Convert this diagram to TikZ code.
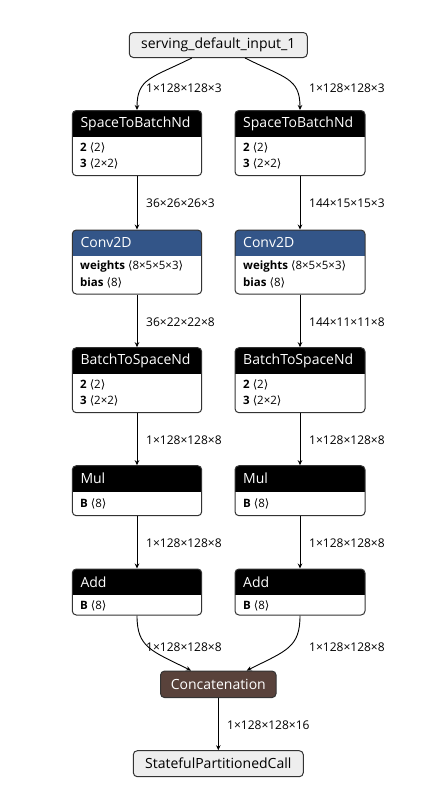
\documentclass[tikz,border=0pt]{standalone}
\usepackage{fontspec}
\setmainfont{Open Sans}
\newfontfamily\symf{DejaVu Sans}
\usetikzlibrary{arrows.meta}
\definecolor{convblue}{RGB}{51,85,136}
\definecolor{tensorbrown}{RGB}{89,66,59}
\definecolor{inputgray}{RGB}{238,238,238}
\definecolor{bordergray}{RGB}{51,51,51}
\newcommand{\lb}{{\symf\char"27E8}}
\newcommand{\rb}{{\symf\char"27E9}}
\tikzset{
  boxframe/.style={draw=bordergray, line width=1pt, rounded corners=4pt, inner sep=0pt},
  titletext/.style={anchor=west, text=white, font=\fontsize{14}{15}\selectfont, inner sep=0pt},
  bodytext/.style={anchor=west, font=\fontsize{11.5}{12}\selectfont, inner sep=0pt},
  edgelbl/.style={anchor=west, font=\fontsize{12}{13}\selectfont, inner sep=0pt},
  edgeline/.style={draw=black, line width=0.9pt, -{Stealth[length=5pt,width=4.5pt]}},
  plainbox/.style={boxframe, fill=inputgray, font=\fontsize{14}{15}\selectfont},
}
% \opbox{name}{x1}{ytop}{x2}{yhead}{ybot}{color}{title}
\newcommand{\opbox}[8]{%
  \begin{scope}
    \clip[rounded corners=4pt] (#2,#3) rectangle (#4,#6);
    \fill[white] (#2,#3) rectangle (#4,#6);
    \fill[#7] (#2,#3) rectangle (#4,#5);
  \end{scope}
  \node[boxframe, minimum width={(#4-#2)*1pt}, minimum height={(#6-#3)*1pt}] (#1) at ({(#2+#4)/2},{(#3+#6)/2}) {};
  \node[titletext] (#1-t) at ({#2+8},{(#3+#5)/2}) {#8};
}
\begin{document}
\begin{tikzpicture}[x=1pt,y=-1pt]
\useasboundingbox (0,0) rectangle (436,804);
\fill[white] (0,0) rectangle (436,804);

% input
\node[plainbox, minimum width=178pt, minimum height=25pt] (in) at (218.3,45) {serving\_default\_input\_1};

% left column
\opbox{s1}{72.3}{110.5}{201.7}{137}{175.7}{black}{SpaceToBatchNd}
\node[bodytext] (s1a) at (80,148) {\textbf{2} \lb2\rb};
\node[bodytext] (s1b) at (80,164) {\textbf{3} \lb2×2\rb};
\opbox{c1}{72.3}{230}{201.7}{255.7}{294}{convblue}{Conv2D}
\node[bodytext] (c1a) at (80,267) {\textbf{weights} \lb8×5×5×3\rb};
\node[bodytext] (c1b) at (80,283) {\textbf{bias} \lb8\rb};
\opbox{b1}{72.3}{347.7}{201.7}{374}{412.7}{black}{BatchToSpaceNd}
\node[bodytext] (b1a) at (80,385) {\textbf{2} \lb2\rb};
\node[bodytext] (b1b) at (80,401) {\textbf{3} \lb2×2\rb};
\opbox{m1}{72.3}{465.7}{201.7}{491.7}{515.7}{black}{Mul}
\node[bodytext] (m1a) at (80,503.5) {\textbf{B} \lb8\rb};
\opbox{a1}{72.3}{569}{201.7}{595}{615}{black}{Add}
\node[bodytext] (a1a) at (80,606) {\textbf{B} \lb8\rb};

% right column
\opbox{s2}{235}{110.5}{365}{137}{175.7}{black}{SpaceToBatchNd}
\node[bodytext] (s2a) at (243,148) {\textbf{2} \lb2\rb};
\node[bodytext] (s2b) at (243,164) {\textbf{3} \lb2×2\rb};
\opbox{c2}{235}{230}{365}{255.7}{294}{convblue}{Conv2D}
\node[bodytext] (c2a) at (243,267) {\textbf{weights} \lb8×5×5×3\rb};
\node[bodytext] (c2b) at (243,283) {\textbf{bias} \lb8\rb};
\opbox{b2}{235}{347.7}{365}{374}{412.7}{black}{BatchToSpaceNd}
\node[bodytext] (b2a) at (243,385) {\textbf{2} \lb2\rb};
\node[bodytext] (b2b) at (243,401) {\textbf{3} \lb2×2\rb};
\opbox{m2}{235}{465.7}{365}{491.7}{515.7}{black}{Mul}
\node[bodytext] (m2a) at (243,503.5) {\textbf{B} \lb8\rb};
\opbox{a2}{235}{569}{365}{595}{615}{black}{Add}
\node[bodytext] (a2a) at (243,606) {\textbf{B} \lb8\rb};

% concat and output
\node[boxframe, fill=tensorbrown, text=white, font=\fontsize{14}{15}\selectfont, minimum width=115.5pt, minimum height=26.5pt] (cc) at (218.3,684.3) {Concatenation};
\node[plainbox, minimum width=170pt, minimum height=26pt] (out) at (218.3,763.7) {StatefulPartitionedCall};

% edges
\draw[edgeline] ([xshift=-26.5pt]in.south) .. controls +(-40,20) and +(0,-32) .. (s1.north);
\draw[edgeline] ([xshift=26.7pt]in.south) .. controls +(40,20) and +(0,-32) .. (s2.north);
\draw[edgeline] (s1.south) -- (c1.north);
\draw[edgeline] (s2.south) -- (c2.north);
\draw[edgeline] (c1.south) -- (b1.north);
\draw[edgeline] (c2.south) -- (b2.north);
\draw[edgeline] (b1.south) -- (m1.north);
\draw[edgeline] (b2.south) -- (m2.north);
\draw[edgeline] (m1.south) -- (a1.north);
\draw[edgeline] (m2.south) -- (a2.north);
\draw[edgeline] (a1.south) .. controls +(0,32) and +(-40,-20) .. ([xshift=-27.3pt]cc.north);
\draw[edgeline] (a2.south) .. controls +(0,32) and +(40,-20) .. ([xshift=28.4pt]cc.north);
\draw[edgeline] (cc.south) -- (out.north);

% edge labels
\node[edgelbl] (l1) at (146,88) {1×128×128×3};
\node[edgelbl] (l2) at (309,88) {1×128×128×3};
\node[edgelbl] (l3) at (146,203) {36×26×26×3};
\node[edgelbl] (l4) at (309,203) {144×15×15×3};
\node[edgelbl] (l5) at (146,322) {36×22×22×8};
\node[edgelbl] (l6) at (309,322) {144×11×11×8};
\node[edgelbl] (l7) at (146,440) {1×128×128×8};
\node[edgelbl] (l8) at (309,440) {1×128×128×8};
\node[edgelbl] (l9) at (146,543) {1×128×128×8};
\node[edgelbl] (l10) at (309,543) {1×128×128×8};
\node[edgelbl] (l11) at (146,647) {1×128×128×8};
\node[edgelbl] (l12) at (309,647) {1×128×128×8};
\node[edgelbl] (l13) at (227,725) {1×128×128×16};
\end{tikzpicture}
\end{document}
